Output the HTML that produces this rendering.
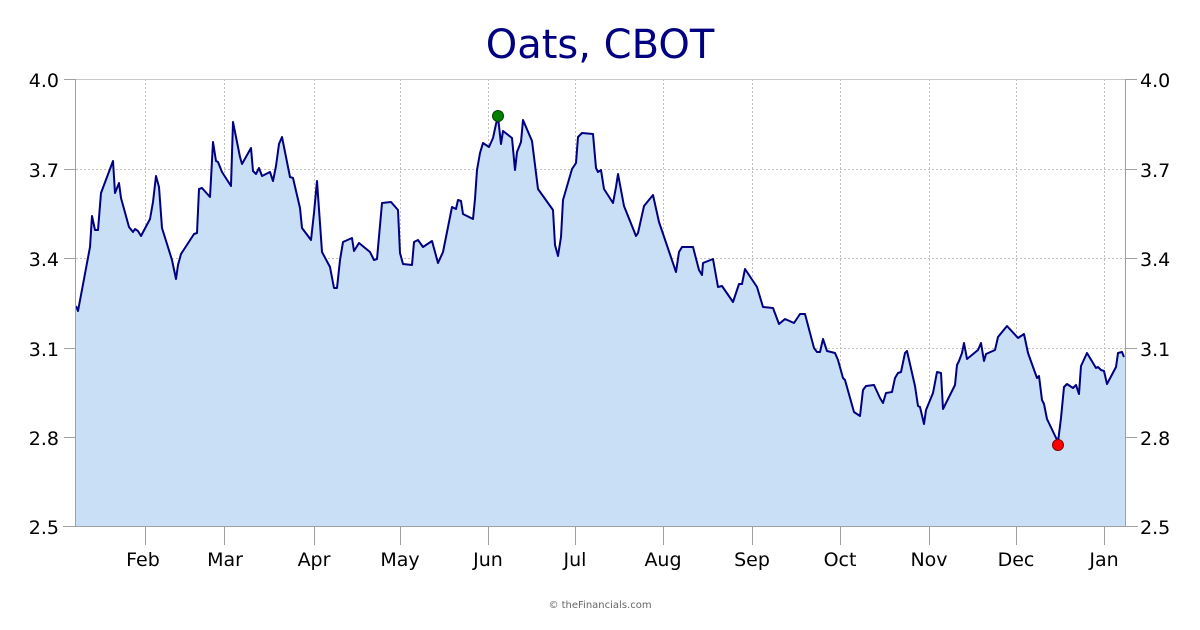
<!DOCTYPE html>
<html><head><style>body{margin:0;background:#fff}svg{display:block}</style></head><body>
<svg width="1200" height="630" xmlns="http://www.w3.org/2000/svg" font-family="'DejaVu Sans','Liberation Sans',sans-serif">
<rect width="1200" height="630" fill="#fff"/>
<text x="600" y="58" text-anchor="middle" font-size="40" fill="#000080">Oats, CBOT</text>
<g stroke="#c0c0c0" stroke-dasharray="2,2" stroke-width="1">
<line x1="76" x2="1125" y1="169.5" y2="169.5"/><line x1="76" x2="1125" y1="258.5" y2="258.5"/><line x1="76" x2="1125" y1="348.5" y2="348.5"/><line x1="76" x2="1125" y1="437.5" y2="437.5"/>
<line y1="79" y2="526" x1="145.5" x2="145.5"/><line y1="79" y2="526" x1="224.5" x2="224.5"/><line y1="79" y2="526" x1="314.5" x2="314.5"/><line y1="79" y2="526" x1="400.5" x2="400.5"/><line y1="79" y2="526" x1="488.5" x2="488.5"/><line y1="79" y2="526" x1="575.5" x2="575.5"/><line y1="79" y2="526" x1="663.5" x2="663.5"/><line y1="79" y2="526" x1="752.5" x2="752.5"/><line y1="79" y2="526" x1="840.5" x2="840.5"/><line y1="79" y2="526" x1="929.5" x2="929.5"/><line y1="79" y2="526" x1="1016.5" x2="1016.5"/><line y1="79" y2="526" x1="1104.5" x2="1104.5"/>
</g>
<line x1="76" x2="1125" y1="79.5" y2="79.5" stroke="#c8c8c8"/>
<polygon fill="#c9dff6" points="76,526 76,306 78,311 90,247 92,216 95,230 98,230 101,193 113,161 115,193 119,183 121,198 129,227 133,232 135,229 138,231 141,236 150,219 153,202 156,176 159,187 162,228 172,260 176,279 178,265 181,254 194,234 197,233 199,189 202,188 210,197 213,142 216,161 218,162 222,172 231,186 233,122 240,157 242,164 251,148 253,171 256,174 259,168 262,176 270,172 273,181 276,166 279,144 282,137 290,177 293,178 300,208 302,228 311,240 314,213 317,181 322,252 330,267 334,288 337,288 340,260 343,242 352,238 354,251 359,243 370,252 374,260 377,259 382,203 391,202 398,210 400,253 403,264 412,265 414,242 418,240 423,247 432,241 438,263 443,252 452,207 456,209 458,200 461,201 463,214 473,219 475,199 477,170 480,153 483,143 489,147 493,138 496,124 498,117 501,144 503,131 512,138 515,170 517,152 521,142 523,120 532,141 538,189 553,210 555,245 558,256 561,237 563,200 572,169 576,163 578,137 582,133 593,134 596,168 598,172 601,170 604,189 613,203 616,187 618,174 624,206 636,236 638,233 642,215 644,206 653,195 659,222 676,272 679,252 682,247 693,247 699,270 702,275 703,263 713,259 718,287 722,286 733,302 739,284 742,284 745,269 757,287 763,307 773,308 779,324 785,319 794,323 800,314 805,314 814,348 817,352 820,352 823,339 827,351 835,353 838,360 843,378 845,380 854,412 860,416 863,390 866,386 874,385 880,398 883,403 886,393 892,392 895,378 898,373 901,372 905,353 907,351 915,386 918,406 920,407 924,424 926,410 933,393 937,372 941,373 943,409 955,385 957,365 959,361 962,353 964,343 967,359 978,350 981,343 984,361 986,354 995,350 998,337 1007,326 1018,338 1024,334 1028,353 1037,378 1039,376 1042,400 1044,404 1047,419 1058,442 1061,418 1064,387 1067,384 1073,388 1076,385 1079,394 1081,366 1087,353 1096,368 1098,367 1101,370 1104,371 1107,384 1116,367 1118,353 1122,352 1124,357 1125,357 1125,526"/>
<polyline fill="none" stroke="#000080" stroke-width="2" stroke-linejoin="round" points="76,306 78,311 90,247 92,216 95,230 98,230 101,193 113,161 115,193 119,183 121,198 129,227 133,232 135,229 138,231 141,236 150,219 153,202 156,176 159,187 162,228 172,260 176,279 178,265 181,254 194,234 197,233 199,189 202,188 210,197 213,142 216,161 218,162 222,172 231,186 233,122 240,157 242,164 251,148 253,171 256,174 259,168 262,176 270,172 273,181 276,166 279,144 282,137 290,177 293,178 300,208 302,228 311,240 314,213 317,181 322,252 330,267 334,288 337,288 340,260 343,242 352,238 354,251 359,243 370,252 374,260 377,259 382,203 391,202 398,210 400,253 403,264 412,265 414,242 418,240 423,247 432,241 438,263 443,252 452,207 456,209 458,200 461,201 463,214 473,219 475,199 477,170 480,153 483,143 489,147 493,138 496,124 498,117 501,144 503,131 512,138 515,170 517,152 521,142 523,120 532,141 538,189 553,210 555,245 558,256 561,237 563,200 572,169 576,163 578,137 582,133 593,134 596,168 598,172 601,170 604,189 613,203 616,187 618,174 624,206 636,236 638,233 642,215 644,206 653,195 659,222 676,272 679,252 682,247 693,247 699,270 702,275 703,263 713,259 718,287 722,286 733,302 739,284 742,284 745,269 757,287 763,307 773,308 779,324 785,319 794,323 800,314 805,314 814,348 817,352 820,352 823,339 827,351 835,353 838,360 843,378 845,380 854,412 860,416 863,390 866,386 874,385 880,398 883,403 886,393 892,392 895,378 898,373 901,372 905,353 907,351 915,386 918,406 920,407 924,424 926,410 933,393 937,372 941,373 943,409 955,385 957,365 959,361 962,353 964,343 967,359 978,350 981,343 984,361 986,354 995,350 998,337 1007,326 1018,338 1024,334 1028,353 1037,378 1039,376 1042,400 1044,404 1047,419 1058,442 1061,418 1064,387 1067,384 1073,388 1076,385 1079,394 1081,366 1087,353 1096,368 1098,367 1101,370 1104,371 1107,384 1116,367 1118,353 1122,352 1124,357"/>
<g stroke="#a0a0a0" stroke-width="1">
<line x1="75.5" x2="75.5" y1="79" y2="527"/><line x1="1125.5" x2="1125.5" y1="79" y2="527"/><line x1="63" x2="1138" y1="526.5" y2="526.5"/>
<line x1="64" x2="76" y1="79.5" y2="79.5"/><line x1="64" x2="76" y1="169.5" y2="169.5"/><line x1="64" x2="76" y1="258.5" y2="258.5"/><line x1="64" x2="76" y1="348.5" y2="348.5"/><line x1="64" x2="76" y1="437.5" y2="437.5"/>
<line x1="1125" x2="1137" y1="79.5" y2="79.5"/><line x1="1125" x2="1137" y1="169.5" y2="169.5"/><line x1="1125" x2="1137" y1="258.5" y2="258.5"/><line x1="1125" x2="1137" y1="348.5" y2="348.5"/><line x1="1125" x2="1137" y1="437.5" y2="437.5"/>
<line y1="526" y2="545" x1="145.5" x2="145.5"/><line y1="526" y2="545" x1="224.5" x2="224.5"/><line y1="526" y2="545" x1="314.5" x2="314.5"/><line y1="526" y2="545" x1="400.5" x2="400.5"/><line y1="526" y2="545" x1="488.5" x2="488.5"/><line y1="526" y2="545" x1="575.5" x2="575.5"/><line y1="526" y2="545" x1="663.5" x2="663.5"/><line y1="526" y2="545" x1="752.5" x2="752.5"/><line y1="526" y2="545" x1="840.5" x2="840.5"/><line y1="526" y2="545" x1="929.5" x2="929.5"/><line y1="526" y2="545" x1="1016.5" x2="1016.5"/><line y1="526" y2="545" x1="1104.5" x2="1104.5"/>
</g>
<circle cx="498" cy="116" r="5.5" fill="#008000" stroke="#004000"/>
<circle cx="1058" cy="445" r="5.5" fill="#ff0000" stroke="#800000"/>
<g font-size="19" fill="#000" text-anchor="end">
<text x="59" y="87">4.0</text><text x="59" y="177">3.7</text><text x="59" y="266">3.4</text><text x="59" y="356">3.1</text><text x="59" y="445">2.8</text><text x="59" y="534">2.5</text>
</g>
<g font-size="19" fill="#000" text-anchor="start">
<text x="1140" y="87">4.0</text><text x="1140" y="177">3.7</text><text x="1140" y="266">3.4</text><text x="1140" y="356">3.1</text><text x="1140" y="445">2.8</text><text x="1140" y="534">2.5</text>
</g>
<g font-size="19" fill="#000" text-anchor="middle">
<text x="143" y="566">Feb</text><text x="225" y="566">Mar</text><text x="314" y="566">Apr</text><text x="400" y="566">May</text><text x="488" y="566">Jun</text><text x="575" y="566">Jul</text><text x="663" y="566">Aug</text><text x="752" y="566">Sep</text><text x="840" y="566">Oct</text><text x="929" y="566">Nov</text><text x="1016" y="566">Dec</text><text x="1104" y="566">Jan</text>
</g>
<text x="600" y="608" text-anchor="middle" font-size="10" fill="#666">© theFinancials.com</text>
</svg>
</body></html>
